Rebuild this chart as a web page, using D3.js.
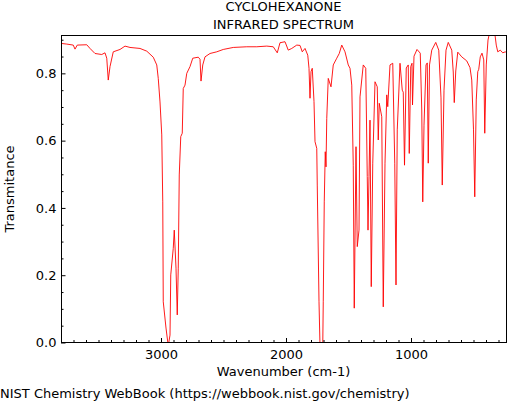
<!DOCTYPE html>
<html>

<head>
  <title>Cyclohexanone IR Spectrum</title>
  <meta charset="utf-8">
  <style>
    body {
      margin: 0;
      background-color: #fff;
    }

    svg text {
      font-family: "DejaVu Sans", sans-serif;
    }
  </style>
</head>

<body>
  <svg width="508" height="402" font-size="13"></svg>
  <script src="https://d3js.org/d3.v7.min.js"></script>
  <script>
    // spectrum: wavenumber (cm-1) and transmittance
    var wavenumbers = [
      3800, 3754, 3702, 3688, 3670, 3594, 3568, 3528, 3474, 3448,
      3434, 3422, 3408, 3382, 3328, 3288, 3248, 3168, 3114, 3062,
      3034, 3022, 3008, 2994, 2986, 2982, 2960, 2942, 2928, 2922,
      2902, 2894, 2880, 2870, 2862, 2854, 2842, 2830, 2822, 2808,
      2794, 2768, 2746, 2702, 2688, 2680, 2666, 2648, 2608, 2554,
      2502, 2422, 2314, 2234, 2154, 2102, 2070, 2048, 2008, 1982,
      1954, 1914, 1888, 1870, 1848, 1826, 1816, 1808, 1800, 1790,
      1776, 1768, 1754, 1750, 1736, 1728, 1706, 1702, 1694, 1686,
      1680, 1674, 1662, 1640, 1622, 1594, 1574, 1554, 1528, 1502,
      1488, 1474, 1462, 1454, 1440, 1430, 1416, 1408, 1382, 1362,
      1350, 1344, 1336, 1328, 1318, 1306, 1288, 1270, 1262, 1254,
      1234, 1222, 1208, 1194, 1186, 1168, 1146, 1130, 1120, 1110,
      1088, 1070, 1062, 1052, 1038, 1022, 1014, 1002, 992, 988,
      976, 952, 926, 914, 906, 896, 880, 870, 862, 852,
      834, 802, 778, 760, 750, 736, 720, 702, 674, 662,
      654, 642, 626, 594, 554, 528, 514, 500, 490, 478,
      466, 458, 446, 432, 418, 410, 398, 384, 372, 330,
      318, 306, 286, 266, 246, 232
    ];
    var transmittance = [
      0.889, 0.887, 0.884, 0.872, 0.884, 0.885, 0.874, 0.859, 0.856, 0.861,
      0.845, 0.780, 0.820, 0.864, 0.871, 0.881, 0.877, 0.874, 0.866, 0.848,
      0.825, 0.785, 0.715, 0.617, 0.418, 0.121, 0.043, -0.010, 0.022, 0.201,
      0.280, 0.334, 0.221, 0.082, 0.221, 0.498, 0.612, 0.622, 0.755, 0.765,
      0.800, 0.820, 0.845, 0.848, 0.842, 0.777, 0.825, 0.849, 0.859, 0.864,
      0.871, 0.877, 0.879, 0.879, 0.881, 0.879, 0.861, 0.891, 0.894, 0.869,
      0.874, 0.884, 0.883, 0.864, 0.874, 0.854, 0.815, 0.726, 0.805, 0.815,
      0.716, 0.597, 0.577, 0.468, 0.121, -0.010, -0.010, 0.121, 0.418, 0.567,
      0.522, 0.666, 0.785, 0.760, 0.825, 0.845, 0.859, 0.884, 0.864, 0.825,
      0.815, 0.765, 0.527, 0.102, 0.582, 0.285, 0.334, 0.730, 0.825, 0.815,
      0.493, 0.334, 0.493, 0.661, 0.166, 0.533, 0.775, 0.760, 0.602, 0.711,
      0.671, 0.106, 0.533, 0.736, 0.701, 0.825, 0.830, 0.533, 0.171, 0.632,
      0.830, 0.750, 0.744, 0.527, 0.816, 0.825, 0.562, 0.820, 0.830, 0.706,
      0.851, 0.871, 0.860, 0.691, 0.418, 0.646, 0.825, 0.831, 0.533, 0.825,
      0.869, 0.892, 0.869, 0.727, 0.468, 0.750, 0.869, 0.892, 0.869, 0.804,
      0.713, 0.807, 0.863, 0.849, 0.837, 0.817, 0.780, 0.632, 0.433, 0.721,
      0.805, 0.812, 0.849, 0.860, 0.840, 0.622, 0.825, 0.899, 0.920, 0.920,
      0.884, 0.864, 0.869, 0.861, 0.864, 0.860
    ];

    var xMajorTicks = [3000, 2000, 1000];
    var yMajorTicks = [0.0, 0.2, 0.4, 0.6, 0.8];
    var titleLines = ["CYCLOHEXANONE", "INFRARED SPECTRUM"];

    var data = wavenumbers.map(function (w, i) { return { w: w, t: transmittance[i] }; });

    var svg = d3.select("svg"),
      plotLeft = 61, plotRight = 506, plotTop = 35.5, plotBottom = 342.5;

    var x = d3.scaleLinear().domain([3800, 240]).range([plotLeft, plotRight]);
    var y = d3.scaleLinear().domain([0, 0.9125]).range([plotBottom, plotTop]);

    svg.append("clipPath")
      .attr("id", "plot-clip")
      .append("rect")
      .attr("x", plotLeft)
      .attr("y", plotTop)
      .attr("width", plotRight - plotLeft)
      .attr("height", plotBottom - plotTop);

    // spectrum trace
    svg.append("path")
      .datum(data)
      .attr("clip-path", "url(#plot-clip)")
      .attr("fill", "none")
      .attr("stroke", "#f00")
      .attr("stroke-width", 0.9)
      .attr("stroke-linejoin", "round")
      .attr("d", d3.line()
        .x(function (d) { return x(d.w); })
        .y(function (d) { return y(d.t); }));

    // minor ticks (inward)
    var xMinor = d3.range(300, 3800, 100).filter(function (v) { return xMajorTicks.indexOf(v) < 0; });
    var yMinor = d3.range(1, 19).map(function (i) { return +(i * 0.05).toFixed(2); })
      .filter(function (v) { return Math.abs(v * 5 - Math.round(v * 5)) > 1e-6; });

    svg.append("g")
      .attr("transform", "translate(0," + plotBottom + ")")
      .call(d3.axisBottom(x).tickValues(xMinor).tickSize(-2.5).tickFormat(""))
      .call(function (g) { g.select(".domain").remove(); });

    svg.append("g")
      .attr("transform", "translate(" + plotLeft + ",0)")
      .call(d3.axisLeft(y).tickValues(yMinor).tickSize(-2.5).tickFormat(""))
      .call(function (g) { g.select(".domain").remove(); });

    // major ticks with labels
    var xAxis = svg.append("g")
      .attr("transform", "translate(0," + plotBottom + ")")
      .call(d3.axisBottom(x).tickValues(xMajorTicks).tickSize(-4.5).tickPadding(7).tickFormat(d3.format("d")));
    xAxis.select(".domain").remove();

    var yAxis = svg.append("g")
      .attr("transform", "translate(" + plotLeft + ",0)")
      .call(d3.axisLeft(y).tickValues(yMajorTicks).tickSize(-4.5).tickPadding(4.5).tickFormat(d3.format(".1f")));
    yAxis.select(".domain").remove();

    svg.selectAll(".tick text")
      .attr("font-family", "DejaVu Sans, sans-serif")
      .attr("font-size", 13)
      .attr("fill", "#000");

    // plot frame
    svg.append("rect")
      .attr("x", plotLeft)
      .attr("y", plotTop)
      .attr("width", plotRight - plotLeft)
      .attr("height", plotBottom - plotTop)
      .attr("fill", "none")
      .attr("stroke", "#000")
      .attr("stroke-width", 1)
      .attr("shape-rendering", "crispEdges");

    // titles and labels
    svg.append("g")
      .attr("text-anchor", "middle")
      .selectAll("text")
      .data(titleLines)
      .enter().append("text")
      .attr("x", (plotLeft + plotRight) / 2)
      .attr("y", function (d, i) { return 11 + i * 18; })
      .text(function (d) { return d; });

    svg.append("text")
      .attr("text-anchor", "middle")
      .attr("x", (plotLeft + plotRight) / 2)
      .attr("y", 375.5)
      .text("Wavenumber (cm-1)");

    svg.append("text")
      .attr("text-anchor", "middle")
      .attr("transform", "translate(13.5," + (plotTop + plotBottom) / 2 + ")rotate(-90)")
      .text("Transmitance");

    svg.append("text")
      .attr("x", 0)
      .attr("y", 397.5)
      .text("NIST Chemistry WebBook (https://webbook.nist.gov/chemistry)");
  </script>
</body>

</html>
